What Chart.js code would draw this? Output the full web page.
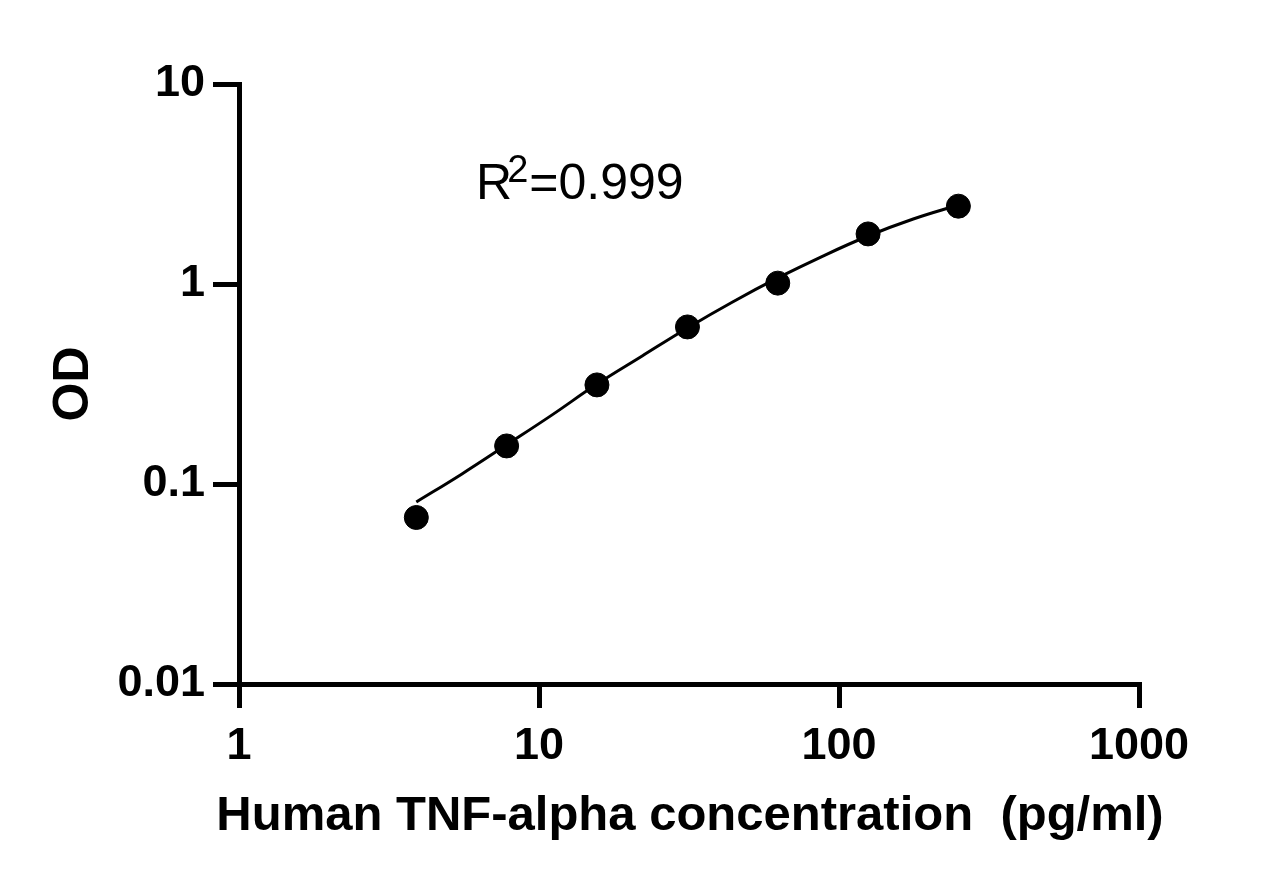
<!DOCTYPE html>
<html>
<head>
<meta charset="utf-8">
<script src="https://cdn.jsdelivr.net/npm/chart.js@4/dist/chart.umd.min.js"></script>
<style>
html,body{margin:0;padding:0;background:#fff;}
#c{display:block;}
</style>
</head>
<body>
<canvas id="c" width="1277" height="885"></canvas>
<script>
// ---- data ----
const concentrations = [3.9, 7.8, 15.6, 31.25, 62.5, 125, 250];
const odValues = [0.068, 0.155, 0.313, 0.61, 1.01, 1.78, 2.45];
// fitted curve
const fitX = [3.9, 5.52, 7.8, 11.03, 15.6, 22.08, 31.25, 44.19, 62.5, 88.39, 125, 176.8, 250];
const fitY = [0.0813, 0.112, 0.157, 0.221, 0.316, 0.437, 0.603, 0.813, 1.072, 1.380, 1.738, 2.113, 2.483];
const xTickValues = [1, 10, 100, 1000];
const yTickValues = [0.01, 0.1, 1, 10];
const xTitle = 'Human TNF-alpha concentration  (pg/ml)';
const yTitle = 'OD';
const r2Label = ['R', '2', '=0.999'];
const r2Pos = [6.17, 2.66];

const FONT = "'Liberation Sans', Arial, Helvetica, sans-serif";

const textPlugin = {
  id: 'texts',
  afterDatasetsDraw(chart) {
    const ctx = chart.ctx;
    const xs = chart.scales.x;
    const x = xs.getPixelForValue(r2Pos[0]);
    const y = chart.scales.y.getPixelForValue(r2Pos[1]);
    ctx.save();
    ctx.fillStyle = '#000';
    ctx.textBaseline = 'alphabetic';
    ctx.textAlign = 'left';
    ctx.font = '50px ' + FONT;
    ctx.fillText(r2Label[0], x, y);
    const w = ctx.measureText(r2Label[0]).width;
    ctx.font = '38px ' + FONT;
    const x2 = x + w - 5;
    ctx.fillText(r2Label[1], x2, y - 17);
    const w2 = ctx.measureText(r2Label[1]).width;
    ctx.font = '50px ' + FONT;
    ctx.fillText(r2Label[2], x2 + w2 + 1, y);
    // x axis title
    ctx.font = 'bold 49px ' + FONT;
    ctx.textAlign = 'center';
    ctx.fillText(xTitle, (xs.left + xs.right) / 2 + 1, 830);
    ctx.restore();
  }
};

const onlyTicks = (vals) => (scale) => {
  scale.ticks = vals.map(v => ({value: v, major: true}));
};

new Chart(document.getElementById('c'), {
  type: 'scatter',
  data: {
    datasets: [
      {
        type: 'line',
        data: fitX.map((x, i) => ({x: x, y: fitY[i]})),
        borderColor: '#000',
        borderWidth: 3,
        pointRadius: 0,
        fill: false,
        tension: 0.4
      },
      {
        type: 'scatter',
        data: concentrations.map((x, i) => ({x: x, y: odValues[i]})),
        backgroundColor: '#000',
        borderColor: '#000',
        pointRadius: 12,
        pointHoverRadius: 12
      }
    ]
  },
  options: {
    responsive: false,
    animation: false,
    devicePixelRatio: 1,
    layout: {padding: {top: 84, right: 138, bottom: 42, left: 0}},
    plugins: {legend: {display: false}, tooltip: {enabled: false}},
    scales: {
      x: {
        type: 'logarithmic',
        min: 1, max: 1000,
        afterBuildTicks: onlyTicks(xTickValues),
        afterFit(scale) { scale.height = 885 - 42 - 684; },
        border: {display: true, color: '#000', width: 5},
        grid: {drawOnChartArea: false, color: '#000', lineWidth: 5, tickLength: 24},
        ticks: {
          color: '#000', padding: 12, maxRotation: 0, autoSkip: false,
          font: {family: FONT, size: 45, weight: 'bold'},
          callback: (v) => String(v)
        },
        title: {display: false}
      },
      y: {
        type: 'logarithmic',
        min: 0.01, max: 10,
        afterBuildTicks: onlyTicks(yTickValues),
        afterFit(scale) { scale.width = 239; },
        border: {display: true, color: '#000', width: 5},
        grid: {drawOnChartArea: false, color: '#000', lineWidth: 5, tickLength: 26},
        ticks: {
          color: '#000', padding: 8, autoSkip: false,
          font: {family: FONT, size: 45, weight: 'bold'},
          callback: (v) => String(v)
        },
        title: {
          display: true, text: yTitle, color: '#000',
          font: {family: FONT, size: 50, weight: 'bold'},
          padding: {top: 44, bottom: 0}
        }
      }
    }
  },
  plugins: [textPlugin]
});
</script>
</body>
</html>
